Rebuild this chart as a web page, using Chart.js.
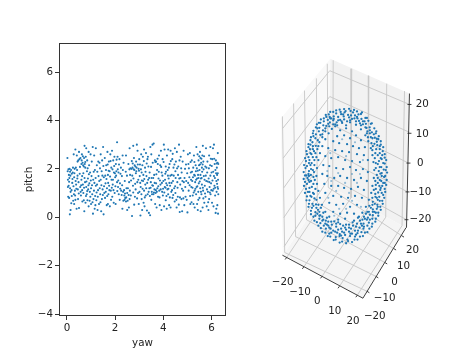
<!DOCTYPE html>
<html><head><meta charset="utf-8">
<script src="https://cdn.jsdelivr.net/npm/chart.js@4"></script>
<style>html,body{margin:0;padding:0;background:#fff}canvas{position:absolute;top:0}#a{left:0}#b{left:237px}</style>
</head><body>
<canvas id="a" width="237" height="355"></canvas><canvas id="b" width="237" height="355"></canvas>
<script>
const xTicks=[0,2,4,6];
const yTicks=[-4,-2,0,2,4,6];
const yawPitch=[
[.02,2.45],[.03,1.9],[.04,1.55],[.05,.85],[.06,1.98],[.07,1.3],[.08,1.75],[.09,.8],[.1,1.62],[.11,2.0],[.12,.12],[.13,1.2],[.13,1.88],[.15,.3],[.15,1.05],[.17,1.95],[.18,.58],[.2,1.8],[.2,.88],[.22,1.42],[.24,1.85],[.25,2.05],[.26,.68],[.28,2.6],[.29,.95],[.3,1.65],[.3,.55],[.32,2.0],[.33,1.1],[.34,.9],[.35,2.8],[.36,1.5],[.37,2.05],[.38,1.35],[.4,.35],[.41,2.55],[.42,1.95],[.43,1.6],[.44,2.3],[.45,1.15],[.46,.75],[.47,2.35],[.48,1.45],[.5,2.7],[.5,.38],[.52,2.4],[.53,1.8],[.55,1.25],
[.56,2.45],[.57,1.05],[.58,.9],[.6,2.2],[.6,1.55],[.62,2.6],[.63,1.7],[.64,.65],[.65,2.25],[.66,1.35],[.67,2.15],[.68,1.0],[.7,2.1],[.7,.7],[.71,2.45],[.72,.25],[.73,2.95],[.74,2.2],[.75,1.45],[.76,2.05],[.77,.6],[.78,2.5],[.8,1.25],[.8,2.85],[.82,.95],[.83,1.9],[.84,2.35],[.85,.7],[.87,1.6],[.88,1.15],[.9,2.7],[.9,.45],[.92,2.15],[.93,1.4],[.95,1.05],[.96,1.85],[.97,.85],[.98,2.6],[1,1.2],[1,.55],[1.02,1.7],[1.03,2.3],[1.05,.95],[1.07,2.9],[1.08,.15],[1.09,1.55],[1.1,.75],[1.12,1.1],[1.13,2.55],[1.15,.35],[1.16,1.95],
[1.18,.5],[1.2,2.85],[1.2,1.3],[1.22,.7],[1.24,2.15],[1.25,1.35],[1.27,.3],[1.28,.85],[1.3,2.3],[1.31,1.7],[1.33,.55],[1.35,2.25],[1.36,1.2],[1.38,.95],[1.4,2.6],[1.4,1.55],[1.42,.25],[1.44,1.9],[1.45,.75],[1.46,2.35],[1.48,1.15],[1.5,2.9],[1.52,.12],[1.53,1.65],[1.55,1.0],[1.57,2.45],[1.58,.8],[1.6,1.4],[1.62,1.95],[1.63,2.15],[1.65,.5],[1.66,1.2],[1.68,2.7],[1.7,1.75],[1.7,.55],[1.72,.95],[1.74,2.3],[1.75,1.3],[1.77,1.9],[1.78,.45],[1.8,2.6],[1.82,1.1],[1.84,2.05],[1.85,1.55],[1.87,2.75],[1.88,.85],
[1.9,1.35],[1.92,2.35],[1.94,.6],[1.95,1.85],[1.97,2.5],[1.98,1.0],[2,1.65],[2.02,.55],[2.03,2.2],[2.05,1.9],[2.08,3.1],[2.08,1.45],[2.1,2.5],[2.12,1.25],[2.14,1.85],[2.15,.95],[2.18,2.4],[2.2,1.4],[2.22,1.8],[2.25,1.1],[2.28,1.7],[2.3,.35],[2.32,1.95],[2.33,1.05],[2.35,2.25],[2.38,.9],[2.4,1.5],[2.42,.8],[2.45,2.55],[2.45,.65],[2.47,1.2],[2.5,.3],[2.5,1.0],[2.52,.68],[2.55,2.2],[2.57,.4],[2.58,1.45],[2.6,2.85],[2.6,.75],[2.62,1.75],[2.65,.9],[2.68,2.0],[2.7,.05],[2.72,2.05],[2.74,1.3],[2.75,2.95],
[2.76,1.6],[2.78,2.45],[2.8,1.95],[2.82,.85],[2.84,2.1],[2.85,1.15],[2.87,2.3],[2.88,1.9],[2.9,3.0],[2.92,1.45],[2.93,2.75],[2.95,1.0],[2.97,2.0],[2.98,.55],[3,2.4],[3.02,1.7],[3.05,.07],[3.06,1.25],[3.08,2.6],[3.1,1.85],[3.1,.75],[3.12,.3],[3.15,2.5],[3.16,1.5],[3.18,.6],[3.2,2.8],[3.2,1.1],[3.22,.45],[3.24,2.05],[3.25,1.35],[3.27,.9],[3.28,2.65],[3.3,1.7],[3.32,.28],[3.34,2.4],[3.35,.95],[3.37,1.55],[3.38,2.1],[3.4,.18],[3.42,1.2],[3.43,1.85],[3.45,.08],[3.46,2.9],[3.48,1.45],[3.5,2.6],[3.5,.72],[3.52,1.05],[3.55,3.0],
[3.56,2.25],[3.57,1.3],[3.59,.95],[3.6,3.05],[3.62,1.75],[3.63,1.15],[3.65,2.35],[3.66,.55],[3.68,1.0],[3.7,2.3],[3.7,1.4],[3.72,.4],[3.74,1.95],[3.75,1.2],[3.77,2.2],[3.78,.85],[3.8,1.6],[3.82,2.55],[3.83,1.1],[3.85,.5],[3.87,2.15],[3.88,1.35],[3.9,2.75],[3.92,.3],[3.93,1.85],[3.95,1.05],[3.97,2.4],[3.98,.9],[4,1.5],[4.02,3.0],[4.03,.45],[4.05,2.8],[4.06,1.25],[4.08,1.8],[4.1,2.1],[4.1,.7],[4.12,1.4],[4.14,.35],[4.15,2.55],[4.17,1.15],[4.18,1.95],[4.2,2.8],[4.2,.95],[4.22,1.6],[4.24,.5],[4.26,2.2],
[4.28,1.3],[4.3,2.75],[4.3,.4],[4.33,1.05],[4.35,1.75],[4.37,2.4],[4.38,.8],[4.4,1.5],[4.42,2.05],[4.45,1.2],[4.47,.65],[4.48,2.85],[4.5,1.9],[4.5,1.0],[4.52,2.3],[4.55,.4],[4.56,2.7],[4.58,1.45],[4.6,.85],[4.62,2.1],[4.65,3.0],[4.66,1.6],[4.68,.22],[4.7,1.35],[4.72,2.5],[4.75,.75],[4.76,1.85],[4.78,.25],[4.8,2.3],[4.82,1.1],[4.84,2.75],[4.85,1.45],[4.87,.5],[4.9,2.0],[4.92,.85],[4.95,1.5],[5,.2],[5.02,2.6],[5.04,2.2],[5.05,1.1],[5.08,1.65],[5.1,2.65],[5.12,.55],[5.14,1.85],[5.16,1.25],
[5.18,2.35],[5.2,1.5],[5.22,.9],[5.24,2.05],[5.25,.55],[5.27,2.55],[5.28,1.75],[5.3,.4],[5.3,1.1],[5.32,1.45],[5.34,2.15],[5.35,1.9],[5.36,.95],[5.37,2.9],[5.38,1.25],[5.4,.55],[5.4,1.6],[5.42,2.6],[5.43,.3],[5.44,1.75],[5.45,1.05],[5.46,2.35],[5.47,1.4],[5.48,2.15],[5.5,.8],[5.5,1.95],[5.52,2.7],[5.53,1.2],[5.54,2.45],[5.55,.25],[5.56,1.6],[5.57,2.25],[5.58,.95],[5.6,2.05],[5.6,1.35],[5.62,2.55],[5.63,.4],[5.64,2.95],[5.65,1.1],[5.66,2.3],[5.68,1.7],[5.7,.6],[5.72,1.3],[5.74,2.1],
[5.75,.85],[5.77,2.85],[5.78,1.5],[5.8,.45],[5.82,1.85],[5.83,2.3],[5.85,1.05],[5.87,.3],[5.88,1.6],[5.9,2.55],[5.9,.75],[5.92,1.25],[5.94,2.15],[5.95,2.9],[5.96,.95],[5.98,1.4],[6,1.85],[6.02,.6],[6.03,2.4],[6.05,1.1],[6.06,2.85],[6.08,.45],[6.1,3.0],[6.1,1.7],[6.12,1.3],[6.13,2.2],[6.15,.9],[6.16,1.95],[6.17,.18],[6.18,2.35],[6.2,1.5],[6.2,.35],[6.21,1.05],[6.22,2.05],[6.23,1.75],[6.24,.5],[6.25,2.25],[6.25,1.25],[6.26,2.65],[6.27,.15],[6.27,1.55],[6.28,.95],[6.28,2.2]
];
const yawPitchMore=[
[.04,1.25],[.09,1.47],[.14,1.72],[.19,1.12],[.23,1.58],[.27,1.28],[.31,1.82],[.35,.72],[.39,1.18],[.44,1.72],[.49,.98],[.54,2.08],[.59,1.32],[.61,2.35],[.63,1.12],[.66,2.52],[.68,1.82],[.71,1.22],[.73,1.62],[.76,2.28],[.79,.88],[.81,1.48],[.84,1.08],[.86,2.02],[.89,1.32],[.91,1.78],[.94,.68],[.99,1.52],[1.04,1.32],[1.06,.62],[1.11,1.88],[1.14,1.42],[1.17,.88],[1.19,1.62],[1.23,1.02],[1.26,1.88],[1.29,1.12],[1.34,1.5],[1.37,2.02],[1.39,.62],[1.43,1.32],[1.47,1.72],[1.49,.92],[1.51,2.12],[1.54,1.28],[1.59,1.72],[1.61,1.05],[1.64,1.58],[1.67,.88],[1.69,2.18],[1.71,1.42],[1.73,1.92],[1.76,1.12],[1.79,1.68],[1.81,2.32],[1.83,.72],[1.86,1.22],[1.89,1.98],[1.91,1.55],[1.93,1.12],[1.96,2.12],[1.99,1.82],[2.01,1.28],[2.04,1.72],[2.06,2.38],[2.09,1.08],[2.11,1.98],[2.13,1.52],[2.16,2.18],[2.19,.72],[2.21,1.18],[2.24,2.05],[2.27,.92],[2.29,1.32],[2.31,2.55],[2.34,.68],[2.37,1.12],[2.39,.72],[2.41,.98],[2.44,1.88],[2.46,.82],[2.49,1.72],[2.53,1.2],[2.56,.92],[2.59,1.98],[2.61,1.1],[2.63,2.02],[2.66,1.52],[2.69,2.32],[2.71,1.72],[2.73,2.22],[2.75,1.02],[2.77,1.98],[2.79,.52],[2.81,2.15],[2.83,1.38],[2.86,1.82],[2.89,2.05],[2.91,.78],[2.94,2.18],[2.96,1.55],[2.99,1.92],[3.01,1.05],[3.03,2.18],[3.04,1.42],[3.07,1.98],[3.09,.95],[3.11,1.52],[3.13,2.15],[3.14,1.18],[3.17,1.75],[3.19,2.32],[3.21,1.58],[3.23,.82],[3.26,1.88],[3.29,1.2],[3.31,2.22],[3.33,1.42],[3.36,2.5],[3.39,1.05],[3.41,1.62],[3.44,.88],[3.47,1.22],[3.49,2.08],[3.51,1.62],[3.53,.95],[3.54,1.32],[3.58,1.62],[3.61,1.02],[3.64,1.42],[3.67,2.28],[3.69,1.12],[3.71,1.78],[3.73,1.05],[3.76,2.42],[3.79,1.28],[3.81,1.88],[3.84,.82],[3.86,1.52],[3.89,1.15],[3.91,2.08],[3.94,1.42],[3.96,1.72],[3.99,1.18],[4.01,2.28],[4.04,1.02],[4.07,1.55],[4.09,1.22],[4.11,1.88],[4.13,.88],[4.16,1.32],[4.19,1.72],[4.21,1.18],[4.23,2.05],[4.25,1.42],[4.27,.82],[4.29,1.72],[4.31,2.32],[4.34,1.42],[4.36,1.12],[4.39,2.62],[4.41,.92],[4.43,1.72],[4.46,2.18],[4.49,1.28],[4.51,1.62],[4.54,.72],[4.57,2.02],[4.59,1.22],[4.61,1.75],[4.64,.52],[4.67,2.35],[4.69,.82],[4.71,1.62],[4.74,2.02],[4.77,1.18],[4.79,1.5],[4.83,.78],[4.88,1.62],[4.91,1.25],[4.94,2.18],[4.97,.72],[4.99,1.82],[5.03,1.42],[5.06,2.02],[5.09,1.32],[5.11,.88],[5.13,2.28],[5.15,1.55],[5.17,.62],[5.19,1.88],[5.21,1.22],[5.23,1.65],[5.26,1.02],[5.29,2.28],[5.31,1.72],[5.33,1.18],[5.36,1.55],[5.39,2.02],[5.41,1.28],[5.43,1.92],[5.45,.72],[5.46,1.62],[5.49,2.52],[5.51,1.48],[5.52,2.18],[5.54,1.75],[5.56,1.05],[5.58,2.42],[5.59,1.62],[5.61,1.88],[5.63,2.18],[5.64,1.22],[5.66,.78],[5.67,1.98],[5.69,2.52],[5.71,1.55],[5.73,.98],[5.76,1.72],[5.79,2.05],[5.81,1.15],[5.84,1.48],[5.86,.62],[5.89,2.02],[5.91,1.45],[5.93,1.02],[5.95,1.72],[5.97,2.42],[5.99,1.12],[6.01,2.12],[6.04,1.52],[6.07,1.88],[6.09,1.18],[6.11,2.42],[6.14,1.62],[6.15,1.22],[6.19,1.82],[6.21,2.22],[6.23,1.38],[6.26,1.82],[6.27,1.18]
];
const sphereProj=[
[333,111.5],[336,110],[339.5,109.2],[340.5,111.5],[344,108.6],[345.5,110.6],[349,108.4],[350.5,110.5],[354,109.5],[357,111],[361,113.6],[362,112],[365.5,117.5],[367,117.5],[368.5,120.5],[371,123.5],[372,123],[374.5,128],[376.5,131],[376,133],[379,136],[378.5,139],[381,141],[381,144.5],[383.5,147],[383,151],[385,154],[385,157.5],[386.5,160],[385,163.5],[387,167],[386,170],[387.4,172.5],[385.5,176],[387,180],[385,183],[386.5,185],[385,189],[385.5,192],[383.5,195],[384.5,198],[382.5,201],[383,204],[380.5,207],[381,210],[378.5,213],[378.5,216],[376,219],[375.5,222],[372.5,224],[372,227],[369.5,229],[367.5,232.5],[365,233],[363,236.5],[360,237],[357.5,240],[354.5,240],[352,242.5],[348,241.5],[346,243.7],[342,242],[339.5,243],[335.5,240],[333.5,240.5],[330,237],[327.5,236.5],[325,233],[322,232],[320.5,228.5],[318,226],[316.5,222.5],[314,221],[313,217],[310.5,214.5],[310.5,211],[308,207],[308.5,204],[306,200.5],[306.5,196.5],[304.5,193],[305.5,189],[303.5,186],[304.5,182],[303.2,179],[304.5,175.5],[303.2,172],[305,168],[303.6,165],[305.5,161],[304.6,158],[306.5,154],[306,151],[308,147],[308,144],[310,140],[310.5,137],[312.5,133],[313,130.5],[315.5,127],[316.5,124],[318.5,122.5],[320.5,119],[323.5,118],[325.5,114.5],[328.5,114],[330,111.5],
[336,113],[341,113.8],[344.5,112],[348,114.5],[353,112],[355,115],[358.5,114],[361.5,118.5],[364.6,121],[366,123.5],[369.8,127],[370,130],[374,134],[375,137.5],[377,141.5],[377.5,145],[380,149],[380,153],[382.5,155],[382,159],[383.5,163],[381.5,167],[384,169.5],[382,173],[384.4,177],[381.5,181],[383.5,183],[382.5,186],[380.5,190],[382,193],[379.5,197],[380,201],[377.5,205],[377,209],[376,213],[373,215.5],[372.5,219],[369,223],[367.5,226],[363.5,229],[361.5,232.5],[357.5,233.5],[355,237],[350,236.5],[347.4,240],[342.5,238.5],[339.4,236.5],[335.6,237.5],[331,233],[329,234],[325.6,229],[323.5,226],[320,223.5],[319,219],[315,216],[315,212.5],[311.5,208],[312,204],[309,200.5],[310,196],[307.5,192],[309,188],[306.5,184],[308,180],[306,175.5],[308.5,171],[306.5,166],[308.5,163],[308,157],[310,153],[309.5,149],[312.5,146],[312,142],[315,138],[315.5,134],[318.5,131],[319,127.5],[323,125],[323.5,121],[327.5,119.5],[329.4,116.6],[333.5,116],
[333,120],[338,116.6],[343.6,116],[349,117],[354.4,118],[359,120.6],[363,124],[366.6,127.6],[370,133],[372.6,138],[374.6,143.6],[376.4,149],[378,155],[379.2,161],[380,167],[380.6,173.6],[380,180],[379.6,186],[378.4,192.6],[377,198],[375,204],[373,209.6],[370,215],[367,220],[363.6,224],[359.6,228],[355,231],[350.4,234],[345,235.4],[339.6,234.6],[335,232],[330.4,229],[326.6,225],[323,220],[320,215.6],[317.6,210],[315.6,204.6],[314,198.6],[312.6,193],[311.4,187],[310.6,181],[310.4,175],[310.6,169],[311.2,163],[312.4,157],[313.6,151],[315.4,145.6],[317.4,140],[320,134.6],[322.6,130],[326,125.6],[329.6,122],
[335,126],[342,122.6],[350,122],[356,124.4],[361,129],[365.4,135],[368.4,141],[371,148],[372.6,155],[373.6,162],[374.4,170],[374,178],[372.6,186],[371.4,193],[369,200],[366,207],[362.4,213],[358,218],[352.6,222.6],[346,225],[340,224.4],[334,221.6],[329,217],[325,212],[321.6,205],[319.6,198],[318,191],[316.6,184],[316,176],[316.6,168],[318,160],[319.6,153],[322,146],[325,139],[328.4,133],[331.6,128.6],
[340,130],[346,128],[352,131],[337,136],[344,135],[350,138],[356,135],[361,140],[333,141],[339,143],[347,144],[353,146],[359,148],[365,147],[328,148],[335,150],[342,151],[349,152],[357,154],[364,155],[368,160],[325,156],[331,158],[338,157],[345,160],[352,161],[360,162],[323,165],[329,166],[336,168],[343,169],[350,167],[356,170],[363,169],[368,172],[322,174],[327,176],[334,178],[340,176],[347,178],[354,180],[361,178],[367,181],[324,184],[331,186],[338,186],[344,188],[351,189],[358,187],[364,190],[325,193],[333,196],[341,197],[348,198],[355,196],[362,198],[329,203],[336,205],[343,204],[350,207],[357,205],[333,212],[340,214],[347,213],[354,214],[338,220],[345,219],
[328,222],[331.6,225],[336,227],[341,229],[346,230],[351,229],[356,227],[361,224],[365,219],[369,212],[372.6,205],[375.6,197],[326.6,218],[323,213],[320.6,208],[343,226],[349,225],[338,222.6],[354,221],[359,217],[338,120],[344,119],[350,120],[356,121],[361,125],[329,126],[325,131],[335,124],[346,125],[322,137],[367,133],[371.6,143],[376,163],[377,175],[376,185],[313.6,172],[314.4,180],[314,165],[316,157],[317,149]
];
const sphereClumps=[
[331,118],[333.5,118.5],[336.5,122],[340,119.5],[341.5,121],[347,121],[352,118.5],[357.5,118],[360,123],[363,121],[365.5,127],[367.5,131],[371,137],[368,137],[373,146],[372.5,150],[375.5,153],[375,158],[378,164],[376,168],[379,171],[378,178],[375.5,181],[378,183],[376,189],[374,190],[375.5,194],[372.5,198],[373,202],[369.5,206],[371,208],[367.5,212],[366,214],[364,217],[362.5,220],[360,221],[357,224],[353,226],[349,228],[345,228],[342,232],[338,230],[336,224],[331,222],[328,226],[325.5,221],[322,217],[319,212],[318,205],[316,200],[313.5,194],[315,189],[313,184],[313,177],[312.5,170],[314,160],[315,153],[318,146],[319,142],[322,134],[325,128],[328,123.5],[333,124],[337,125],
[308.5,176],[309,182],[307,178],[308,174],[310,165],[309,160],[311,154],[312.5,149],[310,144.5],[313,136],[317,128],[320,122.5],[326,116.5],[330,118],[343,114],[351,115],[357,116.5],[372,132],[377,138.5],[380,146],[381,158],[382,176],[381,188],[378,200],[374.5,212],[370,220],[364,227],[358,231],[352,234],[344,233],[337,233],[329,228],[322,221],[317,214],[313,206],[311,197],[309,192],[316,208],[319,216],[325,224],[333,231],[341,236],[349,232],[356,235],[362,226],[368,218],[373,212],[378,207]
];
const sphereBack=[[342,139],[355,142],[330,153],[346,156],[363,160],[327,171],[338,173],[352,174],[360,174],[331,181],[345,183],[357,183],[336,191],[349,193],[328,198],[352,201],[339,209],[346,209],[361,207],[334,216]];
const leftPane=[[280,118],[330,58],[329,186],[282,256]];
const rightPane=[[330,58],[410,93],[406.5,228],[329,186]];
const floorPane=[[282,256],[329,186],[406.5,228],[363,299]];
const gridLines=[
[[281.7,116],[284,253]],[[293,103],[295,237]],[[304,90],[306,220]],[[316,77.7],[317,203]],[[327,63],[328,187.5]],
[[333,59.5],[332.5,188]],[[351.7,68],[351,198]],[[369,75],[368.5,207.5]],[[387,83],[386,217.5]],[[405,90.5],[402.5,226]],
[[410,104],[329.5,70]],[[410,132],[329.5,96]],[[409,163],[329.5,123]],[[408,192],[329.5,150]],[[407,220],[329.5,177]],
[[329.5,70],[282,128]],[[329.5,96],[282.5,158]],[[329.5,123],[283,188]],[[329.5,150],[283,218]],[[329.5,177],[283.5,247]],
[[286,258],[333,188]],[[303.3,267.5],[351,198]],[[321.7,277],[368.5,207.5]],[[339.3,287],[386,217.5]],[[357.3,296],[402.5,226]],
[[284,253],[367,292]],[[295,237],[376,277]],[[306,220],[385,263]],[[317,203],[394,249]],[[328,187.5],[402,236]]
];
const axisLines=[
[[281.7,255.7],[363,299]],[[363,299],[406.5,228]],[[410,93],[407,228]],
[[286,258],[284.5,260]],[[303.3,267.5],[301.8,269.5]],[[321.7,277],[320.2,279]],[[339.3,287],[337.8,289]],[[357.3,296],[355.8,298]],
[[367,292],[369.5,293.5]],[[376,277],[378.5,278.5]],[[385,263],[387.5,264.5]],[[394,249],[396.5,250.5]],[[402,236],[404.5,237.5]],
[[408,104],[412,104]],[[408,133],[412,133]],[[407,163],[411,163]],[[406,192],[410,192]],[[405,220],[409,220]]
];
const axisText=[
["20",423,104],["10",423,134],["0",421,163],["\u221210",421,192],["\u221220",421,220],
["\u221220",282,283],["\u221210",299.5,293],["0",317,302],["10",334.5,312],["20",353,322],
["\u221220",375,317],["\u221210",385,299],["0",395,283],["10",404,267],["20",413,251]
];
const BLUE='#1f77b4', FONT='"DejaVu Sans", sans-serif';
function flat(segs){const o=[];segs.forEach(s=>{o.push({x:s[0][0],y:s[0][1]},{x:s[1][0],y:s[1][1]},{x:NaN,y:NaN});});return o;}
function poly(p){const o=p.map(q=>({x:q[0],y:q[1]}));o.push(o[0]);return o;}
const frame={id:'frame',afterDraw(c){const a=c.chartArea,g=c.ctx;g.save();g.strokeStyle='#333';g.lineWidth=1;
 g.strokeRect(Math.round(a.left)+.5,Math.round(a.top)+.5,Math.round(a.right-a.left)-1,Math.round(a.bottom-a.top)-1);g.restore();}};
new Chart(document.getElementById('a'),{type:'scatter',plugins:[frame],
 data:{datasets:[{data:yawPitch.concat(yawPitchMore).map(p=>({x:p[0],y:p[1]})),backgroundColor:BLUE,borderWidth:0,pointRadius:1.05,pointHoverRadius:1.05}]},
 options:{responsive:false,animation:false,events:[],
  layout:{padding:{top:43,right:11,left:0,bottom:0}},
  plugins:{legend:{display:false},tooltip:{enabled:false}},
  scales:{
   x:{type:'linear',min:-.33,max:6.6,afterFit(s){s.height=39},afterBuildTicks(s){s.ticks=xTicks.map(v=>({value:v}))},
    grid:{drawOnChartArea:false,drawTicks:true,tickLength:4,color:'#333'},border:{display:false},
    ticks:{color:'#222',font:{family:FONT,size:10.3},padding:2,maxRotation:0,autoSkip:false},
    title:{display:true,text:'yaw',color:'#222',font:{family:FONT,size:10.3},padding:{top:3,bottom:5}}},
   y:{type:'linear',min:-4.08,max:7.2,afterFit(s){s.width=59},afterBuildTicks(s){s.ticks=yTicks.map(v=>({value:v}))},
    grid:{drawOnChartArea:false,drawTicks:true,tickLength:4,color:'#333'},border:{display:false},
    ticks:{color:'#222',font:{family:FONT,size:10.3},padding:2,autoSkip:false,callback:v=>String(v).replace('-','\u2212')},
    title:{display:true,text:'pitch',color:'#222',font:{family:FONT,size:10.3},padding:{top:23,bottom:0}}}
  }}});
const labels3d={id:'labels3d',afterDraw(c){const g=c.ctx,x=c.scales.x,y=c.scales.y;g.save();g.fillStyle='#222';g.font='10.3px '+FONT;g.textAlign='center';g.textBaseline='middle';
 axisText.forEach(t=>g.fillText(t[0],x.getPixelForValue(t[1]),y.getPixelForValue(t[2])));g.restore();}};
const paneDs=(p,col)=>({type:'line',data:poly(p),fill:'shape',backgroundColor:col,borderColor:'rgba(0,0,0,0)',borderWidth:0,pointRadius:0,tension:0,order:5,spanGaps:false});
new Chart(document.getElementById('b'),{type:'scatter',plugins:[labels3d],
 data:{datasets:[
  paneDs(leftPane,'#f9f9f9'),paneDs(rightPane,'#f2f2f2'),paneDs(floorPane,'#f5f5f5'),
  {type:'line',data:flat(gridLines),borderColor:'#c6c6c6',borderWidth:.9,pointRadius:0,tension:0,order:4,spanGaps:false,fill:false},
  {type:'line',data:flat(axisLines),borderColor:'#2a2a2a',borderWidth:.9,pointRadius:0,tension:0,order:3,spanGaps:false,fill:false},
  {data:sphereBack.map(p=>({x:p[0],y:p[1]})),backgroundColor:'rgba(31,119,180,.45)',borderWidth:0,pointRadius:1.1,pointHoverRadius:1.1,order:2},
  {data:sphereProj.concat(sphereClumps).map(p=>({x:p[0],y:p[1]})),backgroundColor:BLUE,borderWidth:0,pointRadius:1.15,pointHoverRadius:1.15,order:1}
 ]},
 options:{responsive:false,animation:false,events:[],
  layout:{padding:0},
  plugins:{legend:{display:false},tooltip:{enabled:false}},
  scales:{x:{type:'linear',display:false,min:237,max:474},y:{type:'linear',display:false,min:0,max:355,reverse:true}}}});
</script>
</body></html>
